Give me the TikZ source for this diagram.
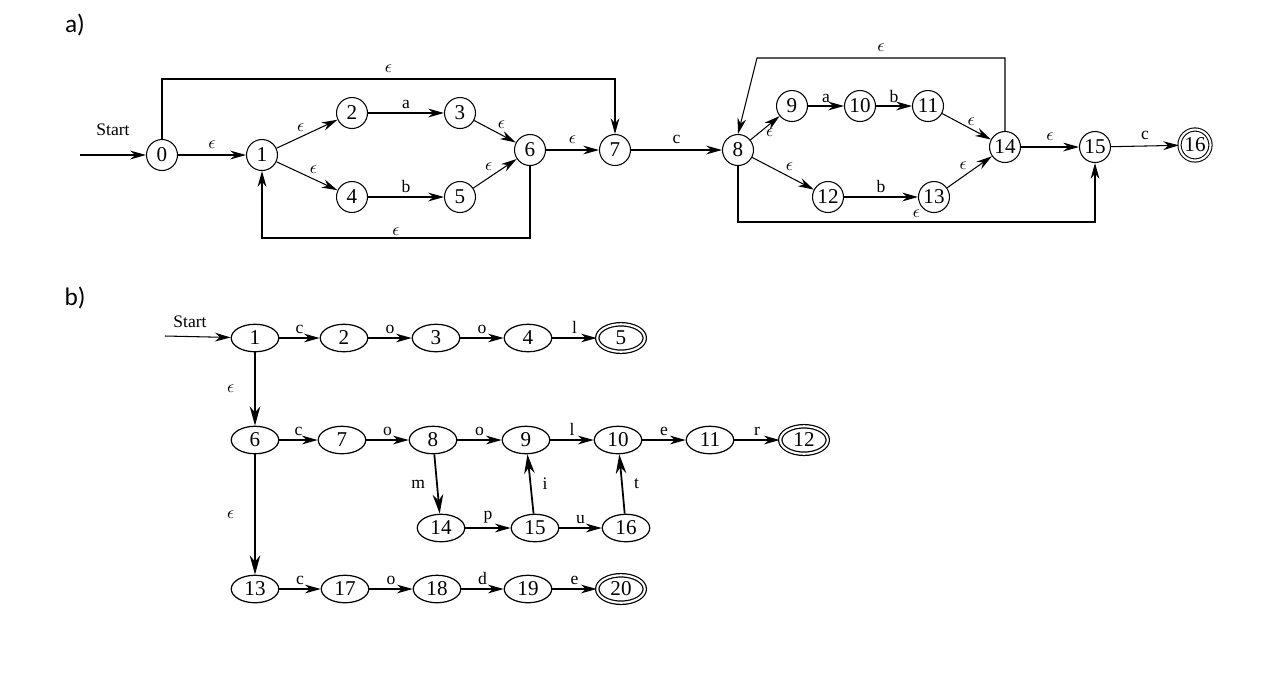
\documentclass[tikz,border=0pt]{standalone}
\usepackage{fontspec}
\setmainfont{Liberation Serif}
\newfontfamily\lab{Carlito}
\usetikzlibrary{arrows.meta,shapes.geometric}
\begin{document}
\begin{tikzpicture}[x=0.02cm,y=-0.02cm,
  st/.style={circle,draw,line width=0.6pt,minimum size=30\pgflinewidth,inner sep=0pt,minimum size=0.62cm,font=\large},
  acc/.style={st,double,double distance=1.2pt},
  es/.style={ellipse,draw,line width=0.7pt,minimum width=0.95cm,minimum height=0.55cm,inner sep=0pt,font=\large},
  eacc/.style={es,double,double distance=1.2pt},
  ar/.style={-{Stealth[length=9pt,width=5pt]},line width=0.6pt},
  arb/.style={-{Stealth[length=11pt,width=6pt]},line width=1pt},
  lb/.style={font=\normalsize}]
\useasboundingbox (0,0) rectangle (1280,698);
\node[font=\lab\Large] at (75,25) {a)};
\node[font=\lab\Large] at (75,298) {b)};
% part a
\node[st] (a0) at (162,155) {0};
\node[st] (a1) at (262,155) {1};
\node[st] (a2) at (352,113) {2};
\node[st] (a3) at (460,113) {3};
\node[st] (a4) at (352,197) {4};
\node[st] (a5) at (460,197) {5};
\node[st] (a6) at (530,150) {6};
\node[st] (a7) at (615,150) {7};
\node[st] (a8) at (738,150) {8};
\node[st] (a9) at (792,106) {9};
\node[st] (a10) at (860,106) {10};
\node[st] (a11) at (928,106) {11};
\node[st] (a12) at (828,197) {12};
\node[st] (a13) at (934,197) {13};
\node[st] (a14) at (1005,147) {14};
\node[st] (a15) at (1095,147) {15};
\node[acc] (a16) at (1195,145) {16};
\coordinate (s0) at (80,155);
\node at (113,130) {Start};
\draw[ar] (s0) -- (a0);
\draw[ar] (a0) -- node[above]{$\epsilon$} (a1);
\draw[ar] (a1) -- node[above left=-2pt]{$\epsilon$} (a2);
\draw[ar] (a1) -- node[above right=-2pt]{$\epsilon$} (a4);
\draw[ar] (a2) -- node[above=-1pt]{a} (a3);
\draw[ar] (a4) -- node[above=-1pt]{b} (a5);
\draw[ar] (a3) -- node[above right=-2pt]{$\epsilon$} (a6);
\draw[ar] (a5) -- node[above left=-2pt]{$\epsilon$} (a6);
\draw[ar] (a6) -- node[above]{$\epsilon$} (a7);
\draw[ar] (a7) -- node[above]{c} (a8);
\draw[ar] (a8) -- node[below right=-3pt]{$\epsilon$} (a9);
\draw[ar] (a9) -- node[above=-2pt]{a} (a10);
\draw[ar] (a10) -- node[above=-2pt]{b} (a11);
\draw[ar] (a11) -- node[above right=-3pt]{$\epsilon$} (a14);
\draw[ar] (a8) -- node[above right=-2pt]{$\epsilon$} (a12);
\draw[ar] (a12) -- node[above=-1pt]{b} (a13);
\draw[ar] (a13) -- node[above left=-2pt]{$\epsilon$} (a14);
\draw[ar] (a14) -- node[above]{$\epsilon$} (a15);
\draw[ar] (a15) -- node[above]{c} (a16);
\draw[ar] (a0.north) -- (162,79) -- node[above]{$\epsilon$} (615,79) -- (a7.north);
\draw[ar] (a6.south) -- (530,238) -- node[above=-2pt]{$\epsilon$} (262,238) -- (a1.south);
\draw[ar] (a14.north) -- (1005,58) -- node[above]{$\epsilon$} (757,58) -- (a8.north);
\draw[ar] (a8.south) -- (738,222) -- node[above=-1pt]{$\epsilon$} (1095,222) -- (a15.south);
% part b
\node[es] (b1) at (255,338) {1};
\node[es] (b2) at (344,338) {2};
\node[es] (b3) at (436,338) {3};
\node[es] (b4) at (528,338) {4};
\node[eacc] (b5) at (621,338) {5};
\node[es] (b6) at (255,440) {6};
\node[es] (b7) at (342,440) {7};
\node[es] (b8) at (433,440) {8};
\node[es] (b9) at (526,440) {9};
\node[es] (b10) at (618,440) {10};
\node[es] (b11) at (710,440) {11};
\node[eacc] (b12) at (804,440) {12};
\node[es] (b14) at (441,528) {14};
\node[es] (b15) at (535,528) {15};
\node[es] (b16) at (626,528) {16};
\node[es] (b13) at (255,589) {13};
\node[es] (b17) at (345,589) {17};
\node[es] (b18) at (437,589) {18};
\node[es] (b19) at (528,589) {19};
\node[eacc] (b20) at (621,589) {20};
\coordinate (s1) at (165,336);
\node at (190,322) {Start};
\draw[ar] (s1) -- (b1);
\draw[ar] (b1) -- node[above=-1pt]{c} (b2);
\draw[ar] (b2) -- node[above=-1pt]{o} (b3);
\draw[ar] (b3) -- node[above=-1pt]{o} (b4);
\draw[ar] (b4) -- node[above=-1pt]{l} (b5);
\draw[ar] (b6) -- node[above=-1pt]{c} (b7);
\draw[ar] (b7) -- node[above=-1pt]{o} (b8);
\draw[ar] (b8) -- node[above=-1pt]{o} (b9);
\draw[ar] (b9) -- node[above=-1pt]{l} (b10);
\draw[ar] (b10) -- node[above=-1pt]{e} (b11);
\draw[ar] (b11) -- node[above=-1pt]{r} (b12);
\draw[ar] (b14) -- node[above=-1pt]{p} (b15);
\draw[ar] (b15) -- node[above=-1pt]{u} (b16);
\draw[ar] (b13) -- node[above=-1pt]{c} (b17);
\draw[ar] (b17) -- node[above=-1pt]{o} (b18);
\draw[ar] (b18) -- node[above=-1pt]{d} (b19);
\draw[ar] (b19) -- node[above=-1pt]{e} (b20);
\draw[arb] (b1) -- node[left=8pt]{$\epsilon$} (b6);
\draw[arb] (b6) -- node[left=8pt]{$\epsilon$} (b13);
\draw[arb] (b8) -- node[left=3pt]{m} (b14);
\draw[arb] (b15) -- node[right=3pt]{i} (b9);
\draw[arb] (b16) -- node[right=3pt]{t} (b10);
\end{tikzpicture}
\end{document}
